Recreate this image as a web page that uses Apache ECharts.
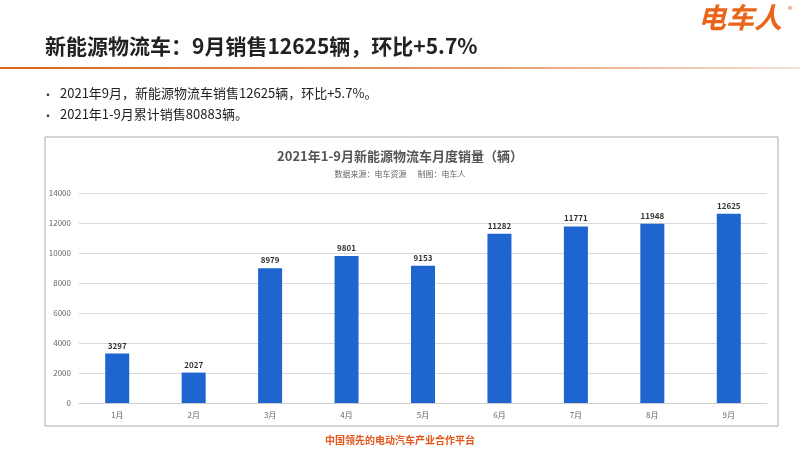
<!DOCTYPE html>
<html>
<head>
<meta charset="utf-8">
<script src="https://cdn.jsdelivr.net/npm/echarts@6/dist/echarts.min.js"></script>
<style>
  html, body { margin: 0; padding: 0; background: #fff; }
  #main { width: 800px; height: 450px; }
</style>
</head>
<body>
<div id="main"></div>
<script>
// 月份与销量（辆）
var months = ['1月', '2月', '3月', '4月', '5月', '6月', '7月', '8月', '9月'];
var sales = [3297, 2027, 8979, 9801, 9153, 11282, 11771, 11948, 12625];
var yTicks = [0, 2000, 4000, 6000, 8000, 10000, 12000, 14000];

var font = '"Noto Sans CJK SC", "Microsoft YaHei", sans-serif';
var orange = '#e8651a';

var myChart = echarts.init(document.getElementById('main'));
myChart.setOption({
    backgroundColor: '#fff',
    title: [{
        text: '2021年1-9月新能源物流车月度销量（辆）',
        left: 'center', top: 145,
        textStyle: { fontFamily: font, fontSize: 13, fontWeight: 'bold', color: '#555' }
    }, {
        text: '数据来源：电车资源      制图：电车人',
        left: 'center', top: 165,
        textStyle: { fontFamily: font, fontSize: 8, fontWeight: 'normal', color: '#666' }
    }],
    grid: { left: 79, right: 33, top: 193, bottom: 47 },
    xAxis: {
        type: 'category',
        data: months,
        axisLine: { lineStyle: { color: '#ccc' } },
        axisTick: { show: false },
        axisLabel: { fontFamily: font, fontSize: 8, color: '#666', margin: 8 }
    },
    yAxis: {
        type: 'value',
        min: yTicks[0], max: yTicks[yTicks.length - 1], interval: 2000,
        axisLine: { show: false },
        axisTick: { show: false },
        splitLine: { lineStyle: { color: '#d9d9d9' } },
        axisLabel: {
            fontFamily: font, fontSize: 8, color: '#666', margin: 8,
            formatter: function (v) { return String(v); }
        }
    },
    series: [{
        type: 'bar',
        data: sales,
        barWidth: 24,
        itemStyle: { color: '#1f65d0' },
        label: {
            show: true, position: 'top', distance: 4,
            fontFamily: font, fontSize: 8, color: '#333', fontWeight: 'bold'
        }
    }],
    graphic: [
        // 页眉标题
        {
            type: 'text', left: 45, top: 36,
            style: { text: '新能源物流车：9月销售12625辆，环比+5.7%', font: 'bold 21px ' + font, fill: '#222' }
        },
        // 标题下橙色线
        {
            type: 'rect', shape: { x: 0, y: 67, width: 800, height: 2 },
            style: {
                fill: new echarts.graphic.LinearGradient(0, 0, 1, 0, [
                    { offset: 0, color: '#d9641e' },
                    { offset: 0.6, color: '#e89a6a' },
                    { offset: 1, color: '#f5e2d6' }
                ])
            }
        },
        // logo
        {
            type: 'text', right: 18, top: 3,
            style: { text: '电车人', font: 'italic bold 28px ' + font, fill: orange }
        },
        {
            type: 'text', right: 8, top: 5,
            style: { text: '®', font: '9px ' + font, fill: orange }
        },
        // 要点
        {
            type: 'text', left: 42, top: 89,
            style: { text: '•', font: '12px ' + font, fill: '#333' }
        },
        {
            type: 'text', left: 60, top: 87,
            style: { text: '2021年9月，新能源物流车销售12625辆，环比+5.7%。', font: '13px ' + font, fill: '#222' }
        },
        {
            type: 'text', left: 42, top: 110,
            style: { text: '•', font: '12px ' + font, fill: '#333' }
        },
        {
            type: 'text', left: 60, top: 108,
            style: { text: '2021年1-9月累计销售80883辆。', font: '13px ' + font, fill: '#222' }
        },
        // 图表外框
        {
            type: 'rect', z: -1,
            shape: { x: 45, y: 137, width: 733, height: 289 },
            style: { fill: '#fff', stroke: '#aaa', lineWidth: 1 }
        },
        // 页脚
        {
            type: 'text', left: 'center', top: 435,
            style: { text: '中国领先的电动汽车产业合作平台', font: 'bold 10px ' + font, fill: '#e0561b' }
        }
    ]
});
</script>
</body>
</html>
